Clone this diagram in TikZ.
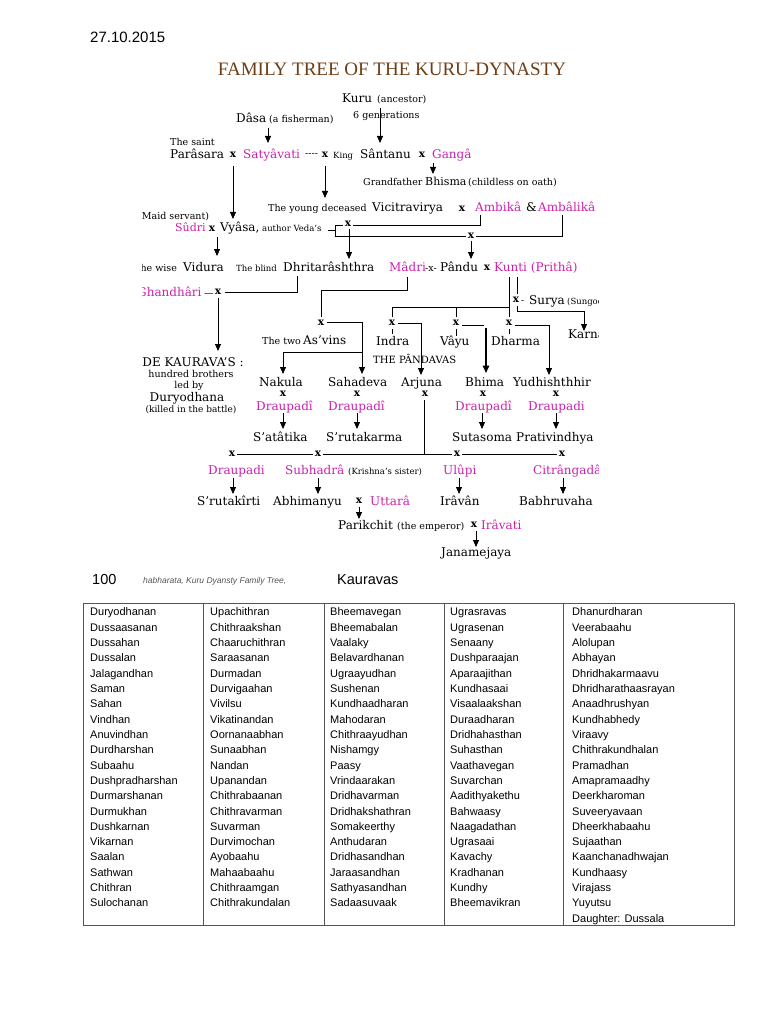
\documentclass[tikz,border=0pt]{standalone}
\usepackage{fontspec}
\setmainfont{DejaVu Serif}
\newfontfamily\sansf{Liberation Sans}
\newfontfamily\timesf{Liberation Serif}
\usetikzlibrary{arrows.meta}
\definecolor{mag}{RGB}{204,34,170}
\definecolor{brn}{RGB}{110,62,22}
\definecolor{tblc}{RGB}{85,85,85}
\tikzset{
  nm/.style={anchor=base west, inner sep=0pt, font=\fontsize{12}{14}\selectfont},
  wf/.style={nm, text=mag},
  sm/.style={anchor=base west, inner sep=0pt, font=\fontsize{9.5}{11}\selectfont},
  xm/.style={inner sep=0.8pt, font=\bfseries\fontsize{10.5}{12}\selectfont},
  xf/.style={xm, fill=white, inner sep=1.5pt},
  ln/.style={line width=0.8pt},
  ar/.style={line width=0.8pt, -{Triangle[length=7pt,width=6pt]}},
  tt/.style={anchor=base west, inner sep=0pt, font=\sansf\fontsize{11}{13}\selectfont},
}
\begin{document}
\begin{tikzpicture}[x=1pt,y=-1pt]
\useasboundingbox (0,0) rectangle (768,1024);
\fill[white] (0,0) rectangle (768,1024);

\node[anchor=base west, inner sep=0pt, font=\sansf\fontsize{15}{17}\selectfont] (date) at (90,43) {27.10.2015};
\node[anchor=base, inner sep=0pt, font=\timesf\fontsize{19}{21}\selectfont, text=brn] (title) at (392,76) {FAMILY TREE OF THE KURU-DYNASTY};

\begin{scope}
\clip (142,85) rectangle (598,565);
% ---------- lines ----------
\draw[ar] (380,108) -- (380,143);
\draw[ar] (268,128) -- (268,143);
\draw[ar] (233,166) -- (233,219);
\draw[ar] (325,166) -- (325,198);
\draw[ar] (433,163) -- (433,174);
\draw[ln] (328,230) -- (335,230);
\draw[ln] (335,225) -- (335,236);
\draw[ln] (335,225) -- (480,225) -- (480,215);
\draw[ln] (335,236) -- (562,236) -- (562,215);
\draw[ar] (217,237) -- (217,256);
\draw[ar] (349,229) -- (349,259);
\draw[ar] (471,241) -- (471,259);
\draw[ln] (225,292) -- (297,292) -- (297,276);
\draw[ar] (218,298) -- (218,351);
\draw[ln] (407,277) -- (407,290) -- (321,290) -- (321,317);
\draw[ar] (327,322) -- (362,322) -- (362,374);
\draw[ar] (362,352) -- (283,352) -- (283,374);
\draw[ln] (509,277) -- (509,317);
\draw[ln] (509,307) -- (392,307) -- (392,317);
\draw[ln] (456,307) -- (456,317);
\draw[ln] (392,329) -- (392,334);
\draw[ln] (456,329) -- (456,336);
\draw[ln] (509,329) -- (509,334);
\draw[ar] (398,323) -- (421,323) -- (421,375);
\draw[ln] (462,325) -- (484,325);
\draw[line width=1.6pt, -{Triangle[length=7.5pt,width=6.5pt]}] (486,328) -- (486,373);
\draw[ar] (515,325) -- (549,325) -- (549,375);
\draw[ln] (517,277) -- (517,294);
\draw[ar] (517,306) -- (517,311) -- (584,311) -- (584,331);
\draw[ar] (283,413) -- (283,429);
\draw[ar] (357,413) -- (357,429);
\draw[ar] (482,413) -- (482,429);
\draw[ar] (556,413) -- (556,429);
\draw[ln] (424,400) -- (424,454);
\draw[ln] (237,454) -- (557,454);
\draw[ar] (233,478) -- (233,494);
\draw[ar] (318,478) -- (318,494);
\draw[ar] (459,478) -- (459,494);
\draw[ar] (563,478) -- (563,494);
\draw[ar] (359,507) -- (359,519);
\draw[ar] (476,531) -- (476,547);

% ---------- texts ----------
\node[nm] (kuru) at (342,103) {Kuru};
\node[sm] (anc) at (377,103) {(ancestor)};
\node[sm] (gen) at (353,119) {6 generations};
\node[nm] (dasa) at (236,123) {Dâsa};
\node[sm] (fish) at (269,123) {(a fisherman)};
\node[sm] (saint) at (170,146) {The saint};
\node[nm] (paras) at (170,159) {Parâsara};
\node[xm] (px) at (233,155) {x};
\node[wf] (satya) at (243,159) {Satyâvati};
\node[sm] (dash) at (305,157) {{-}{-}{-}{-}};
\node[xm] (sx) at (325,155) {x};
\node[sm, font=\fontsize{8.5}{10}\selectfont] (king) at (333,159) {King};
\node[nm] (santa) at (360,159) {Sântanu};
\node[xm] (gx) at (422,155) {x};
\node[wf] (ganga) at (432,159) {Gangâ};
\node[sm] (grand) at (363,186) {Grandfather};
\node[nm, font=\fontsize{11}{13}\selectfont] (bhis) at (425,186) {Bhisma};
\node[sm] (child) at (468,186) {(childless on oath)};
\node[sm] (young) at (268,212) {The young deceased};
\node[nm] (vici) at (372,212) {Vicitravirya};
\node[xm] (vx1) at (462,209) {x};
\node[wf] (ambi) at (475,212) {Ambikâ};
\node[nm] (amp) at (526,212) {\&};
\node[wf] (amba) at (538,212) {Ambâlikâ};
\node[sm] (maid) at (138,219) {(Maid servant)};
\node[wf, font=\fontsize{11}{13}\selectfont] (sudri) at (175,232) {Sûdri};
\node[xm] (sux1) at (212,229) {x};
\node[nm] (vyasa) at (220,232) {Vyâsa,};
\node[sm, font=\fontsize{8.5}{10}\selectfont] (veda) at (262,232) {author Veda's};
\node[xf] (ax1) at (348,224) {x};
\node[xf] (ax2) at (471,236) {x};
\node[sm] (wise) at (134,271) {The wise};
\node[nm] (vidu) at (183,271) {Vidura};
\node[sm, font=\fontsize{8.5}{10}\selectfont] (blind) at (236,271) {The blind};
\node[nm] (dhri) at (283,271) {Dhritarâshthra};
\node[wf] (madri) at (389,271) {Mâdri};
\node[sm] (mx) at (425,271) {-x-};
\node[nm] (pandu) at (440,271) {Pându};
\node[xm] (kx) at (487,268) {x};
\node[wf] (kunti) at (494,271) {Kunti (Prithâ)};
\node[wf] (ghan) at (137,296) {Ghandhâri};
\node[sm] (gdash) at (204,296) {—};
\node[xm] (ghx) at (218,292) {x};
\node[xm] (surx) at (516,300) {x};
\node[sm] (surd) at (521,303) {-};
\node[nm] (surya) at (529,304) {Surya};
\node[sm, font=\fontsize{8.5}{10}\selectfont] (sung) at (567,304) {(Sungod)};
\node[nm] (karna) at (568,338) {Karna};
\node[xm] (asx) at (321,323) {x};
\node[xm] (inx) at (392,323) {x};
\node[xm] (vax) at (456,323) {x};
\node[xm] (dhx) at (509,323) {x};
\node[sm] (two) at (262,344) {The two};
\node[nm] (asv) at (303,344) {As'vins};
\node[nm] (indra) at (376,345) {Indra};
\node[nm] (vayu) at (440,345) {Vâyu};
\node[nm] (dharma) at (491,345) {Dharma};
\node[anchor=base west, inner sep=0pt, font=\fontsize{10}{12}\selectfont] (pand) at (373,363) {THE PÂNDAVAS};
\node[anchor=base, inner sep=0pt, font=\fontsize{12}{13}\selectfont] (kaur) at (193,366) {DE KAURAVA'S :};
\node[anchor=base, inner sep=0pt, font=\fontsize{9.5}{11}\selectfont] (hund) at (191,377) {hundred brothers};
\node[anchor=base, inner sep=0pt, font=\fontsize{9.5}{11}\selectfont] (ledby) at (189,388) {led by};
\node[anchor=base, inner sep=0pt, font=\fontsize{12}{14}\selectfont] (dury) at (187,401) {Duryodhana};
\node[anchor=base, inner sep=0pt, font=\fontsize{9}{11}\selectfont] (kill) at (191,412) {(killed in the battle)};
\node[nm] (naku) at (259,386) {Nakula};
\node[nm] (saha) at (328,386) {Sahadeva};
\node[nm] (arju) at (401,386) {Arjuna};
\node[nm] (bhim) at (465,386) {Bhima};
\node[nm] (yudh) at (513,386) {Yudhishthhir};
\node[xm] (nx) at (283,394) {x};
\node[xm] (shx) at (357,394) {x};
\node[xm] (arx) at (425,394) {x};
\node[xm] (bhx) at (483,394) {x};
\node[xm] (yux) at (556,394) {x};
\node[wf] (dr1) at (256,410) {Draupadî};
\node[wf] (dr2) at (328,410) {Draupadî};
\node[wf] (dr3) at (455,410) {Draupadî};
\node[wf] (dr4) at (528,410) {Draupadi};
\node[nm] (sata) at (253,441) {S'atâtika};
\node[nm] (sruk) at (326,441) {S'rutakarma};
\node[nm] (suta) at (452,441) {Sutasoma};
\node[nm] (prat) at (516,441) {Prativindhya};
\node[xf] (wx1) at (232,454) {x};
\node[xf] (wx2) at (318,454) {x};
\node[xf] (wx3) at (457,454) {x};
\node[xf] (wx4) at (562,454) {x};
\node[wf] (dr5) at (208,474) {Draupadi};
\node[wf] (subh) at (285,474) {Subhadrâ};
\node[sm, font=\fontsize{8.5}{10}\selectfont] (kris) at (348,474) {(Krishna's sister)};
\node[wf] (ulup) at (443,474) {Ulûpi};
\node[wf] (citr) at (533,474) {Citrângadâ};
\node[nm] (sruki) at (197,505) {S'rutakîrti};
\node[nm] (abhi) at (273,505) {Abhimanyu};
\node[xm] (abx) at (359,501) {x};
\node[wf] (utta) at (370,505) {Uttarâ};
\node[nm] (irav) at (440,505) {Irâvân};
\node[nm] (babh) at (519,505) {Babhruvaha};
\node[nm] (pari) at (338,529) {Parikchit};
\node[sm] (emp) at (397,529) {(the emperor)};
\node[xm] (pax) at (474,525) {x};
\node[wf] (irvt) at (481,529) {Irâvati};
\node[nm] (jana) at (441,556) {Janamejaya};
\end{scope}

% ---------- footer line ----------
\node[anchor=base west, inner sep=0pt, font=\sansf\fontsize{14.5}{16}\selectfont] (pg) at (92,584) {100};
\node[anchor=base west, inner sep=0pt, font=\sansf\itshape\fontsize{8.5}{10}\selectfont, text=tblc] (src) at (143,583) {habharata, Kuru Dyansty Family Tree,};
\node[anchor=base west, inner sep=0pt, font=\sansf\fontsize{14.5}{16}\selectfont] (kv) at (337,584) {Kauravas};

% ---------- table ----------
\draw[tblc, line width=0.9pt] (83,603) rectangle (734,925);
\foreach \xx in {203,324,444,563} \draw[tblc, line width=0.9pt] (\xx,603) -- (\xx,925);
\foreach \n [count=\i from 0] in {Duryodhanan,Dussaasanan,Dussahan,Dussalan,Jalagandhan,Saman,Sahan,Vindhan,Anuvindhan,Durdharshan,Subaahu,Dushpradharshan,Durmarshanan,Durmukhan,Dushkarnan,Vikarnan,Saalan,Sathwan,Chithran,Sulochanan}
  \node[tt] (a\i) at (90,615.7+15.33*\i) {\n};
\foreach \n [count=\i from 0] in {Upachithran,Chithraakshan,Chaaruchithran,Saraasanan,Durmadan,Durvigaahan,Vivilsu,Vikatinandan,Oornanaabhan,Sunaabhan,Nandan,Upanandan,Chithrabaanan,Chithravarman,Suvarman,Durvimochan,Ayobaahu,Mahaabaahu,Chithraamgan,Chithrakundalan}
  \node[tt] (b\i) at (210,615.7+15.33*\i) {\n};
\foreach \n [count=\i from 0] in {Bheemavegan,Bheemabalan,Vaalaky,Belavardhanan,Ugraayudhan,Sushenan,Kundhaadharan,Mahodaran,Chithraayudhan,Nishamgy,Paasy,Vrindaarakan,Dridhavarman,Dridhakshathran,Somakeerthy,Anthudaran,Dridhasandhan,Jaraasandhan,Sathyasandhan,Sadaasuvaak}
  \node[tt] (c\i) at (330,615.7+15.33*\i) {\n};
\foreach \n [count=\i from 0] in {Ugrasravas,Ugrasenan,Senaany,Dushparaajan,Aparaajithan,Kundhasaai,Visaalaakshan,Duraadharan,Dridhahasthan,Suhasthan,Vaathavegan,Suvarchan,Aadithyakethu,Bahwaasy,Naagadathan,Ugrasaai,Kavachy,Kradhanan,Kundhy,Bheemavikran}
  \node[tt] (d\i) at (450,615.7+15.33*\i) {\n};
\foreach \n [count=\i from 0] in {Dhanurdharan,Veerabaahu,Alolupan,Abhayan,Dhridhakarmaavu,Dhridharathaasrayan,Anaadhrushyan,Kundhabhedy,Viraavy,Chithrakundhalan,Pramadhan,Amapramaadhy,Deerkharoman,Suveeryavaan,Dheerkhabaahu,Sujaathan,Kaanchanadhwajan,Kundhaasy,Virajass,Yuyutsu,Daughter: Dussala}
  \node[tt] (e\i) at (572,615.7+15.33*\i) {\n};
\end{tikzpicture}
\end{document}
